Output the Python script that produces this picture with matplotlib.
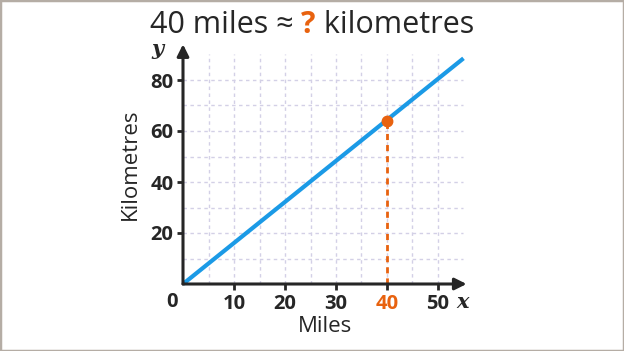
import matplotlib
matplotlib.use('Agg')
import matplotlib.pyplot as plt
from matplotlib.patches import Rectangle

miles = [0, 55]
km = [0, 88.5]
point_miles = 40
point_km = 64
x_ticks = [10, 20, 30, 40, 50]
y_ticks = [20, 40, 60, 80]
title_parts = ['40 miles \u2248 ', '?', ' kilometres']

blue = '#1b9ae6'
orange = '#e8620f'
dark = '#262626'
grid_c = '#d3d0e6'

plt.rcParams['font.family'] = ['Open Sans', 'DejaVu Sans']

fig = plt.figure(figsize=(6.24, 3.51), dpi=100)
fig.patches.append(Rectangle((0, 0), 1, 1, transform=fig.transFigure,
                             fill=False, edgecolor='#b5ada5', linewidth=2.5))

W, H = 624, 351
x0, y0 = 183, 284
sx, sy = 5.1, 2.55
xmax, ymax = 55.5, 94
ax = fig.add_axes([x0 / W, (H - y0) / H, xmax * sx / W, ymax * sy / H])
ax.set_xlim(0, xmax)
ax.set_ylim(0, ymax)
for s in ax.spines.values():
    s.set_visible(False)

# grid
for gx in range(5, 55, 5):
    ax.plot([gx, gx], [0, 90], color=grid_c, lw=1, ls=(0, (2.5, 2.5)), zorder=1)
for gy in range(10, 90, 10):
    ax.plot([0, 55], [gy, gy], color=grid_c, lw=1, ls=(0, (2.5, 2.5)), zorder=1)

# axes arrows
ax.annotate('', xy=(55.6, 0), xytext=(0, 0), annotation_clip=False,
            arrowprops=dict(arrowstyle='-|>,head_length=0.7,head_width=0.35',
                            color=dark, lw=2.2, shrinkA=0, shrinkB=0), zorder=4)
ax.annotate('', xy=(0, 94), xytext=(0, 0), annotation_clip=False,
            arrowprops=dict(arrowstyle='-|>,head_length=0.7,head_width=0.35',
                            color=dark, lw=2.2, shrinkA=0, shrinkB=0), zorder=4)

ax.plot(miles, km, color=blue, lw=3, solid_capstyle='butt', zorder=3, clip_on=False)
ax.plot([point_miles, point_miles], [0, point_km], color=orange, lw=2,
        ls=(0, (2.2, 1.8)), zorder=2)
ax.plot(point_miles, point_km, 'o', color=orange, ms=7.5, zorder=5)

ax.set_xticks(x_ticks)
ax.set_yticks(y_ticks)
ax.tick_params(axis='both', length=4, width=2, color=dark, direction='out', pad=3)
ax.set_xticklabels([str(t) for t in x_ticks], fontsize=14.5, fontweight='bold', color=dark)
ax.set_yticklabels([str(t) for t in y_ticks], fontsize=14.5, fontweight='bold', color=dark)
ax.get_xticklabels()[3].set_color(orange)

ax.text(-2.2, -3.3, '0', fontsize=14.5, fontweight='bold', color=dark, ha='center', va='top')
ax.text(54.8, -3.0, 'x', fontsize=15, fontweight='bold', style='italic',
        family='DejaVu Serif', color=dark, ha='center', va='top')
ax.text(-5, 92, 'y', fontsize=15, fontweight='bold', style='italic',
        family='DejaVu Serif', color=dark, ha='center', va='center')

ax.set_xlabel('Miles', fontsize=16, color=dark, labelpad=2)
ax.set_ylabel('Kilometres', fontsize=16, color=dark, labelpad=7)

# title in three coloured parts, centred as a whole
fig.canvas.draw()
r = fig.canvas.get_renderer()
ty = 1 - 25 / H
texts = [fig.text(0, ty, title_parts[0], fontsize=22, color=dark, va='center'),
         fig.text(0, ty, title_parts[1], fontsize=22, color=orange, fontweight='bold', va='center'),
         fig.text(0, ty, title_parts[2], fontsize=22, color=dark, va='center')]
widths = [t.get_window_extent(r).width for t in texts]
x = (W - sum(widths)) / 2
for t, w in zip(texts, widths):
    t.set_x(x / W)
    x += w

fig.savefig('out.png', dpi=100)
